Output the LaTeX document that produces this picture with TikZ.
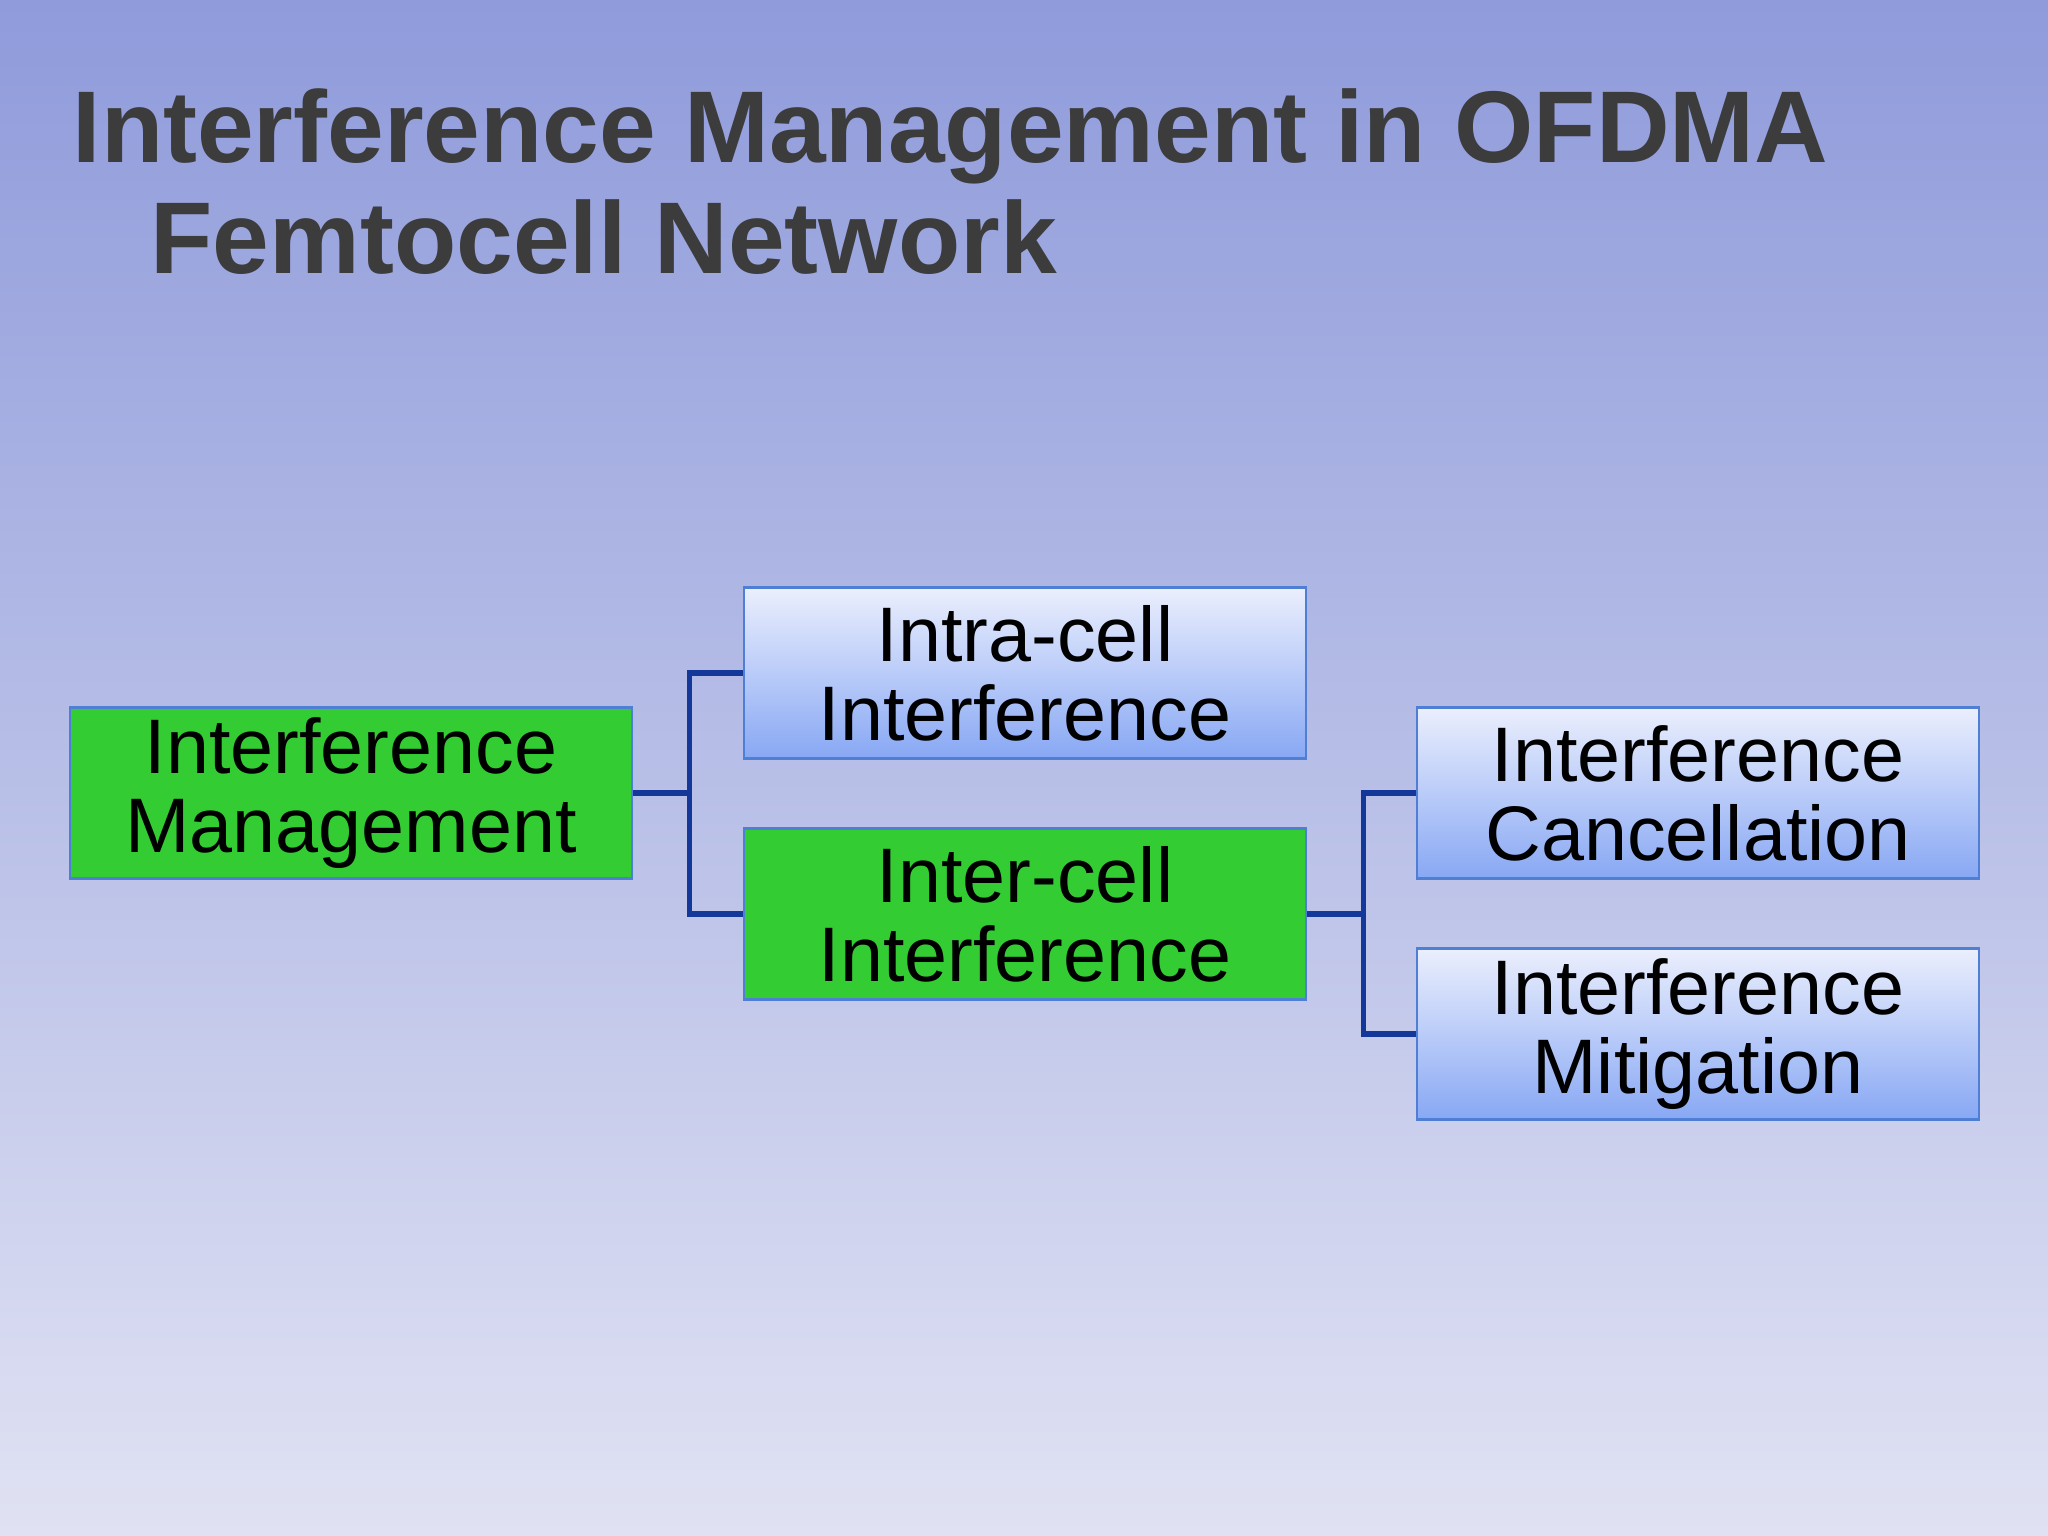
\documentclass[tikz,border=0pt]{standalone}
\usepackage{fontspec}
\setmainfont{Liberation Sans}
\definecolor{bgtop}{HTML}{8F9BDB}
\definecolor{bgbot}{HTML}{E0E2F3}
\definecolor{boxtop}{HTML}{EBEFFD}
\definecolor{boxbot}{HTML}{88A8F4}
\definecolor{boxgreen}{HTML}{33CC33}
\definecolor{boxline}{HTML}{4F7FD4}
\definecolor{linkblue}{HTML}{14389A}
\definecolor{titlegray}{HTML}{3C3C3C}
\tikzset{
  item/.style={draw=boxline,line width=0.8pt,minimum width=5.62cm,minimum height=1.71cm,
    align=center,font=\fontsize{22}{22.5}\selectfont,inner sep=0pt},
  blueitem/.style={item,top color=boxtop,bottom color=boxbot},
  greenitem/.style={item,fill=boxgreen},
  link/.style={draw=linkblue,line width=1.6pt}
}
\begin{document}
\begin{tikzpicture}
\shade[top color=bgtop,bottom color=bgbot] (0,0) rectangle (20.48,15.36);
\useasboundingbox (0,0) rectangle (20.48,15.36);
% title
\node[anchor=base west,inner sep=0pt,text=titlegray,font=\fontsize{29}{34}\selectfont\bfseries] (t1) at (0.72,13.73) {Interference Management in OFDMA};
\node[anchor=base west,inner sep=0pt,text=titlegray,font=\fontsize{29}{34}\selectfont\bfseries] (t2) at (1.50,12.62) {Femtocell Network};
% boxes
\node[greenitem] (im) at (3.51,7.43) {Interference\\Management};
\node[blueitem] (intra) at (10.25,8.63) {Intra-cell\\Interference};
\node[greenitem] (inter) at (10.25,6.22) {Inter-cell\\Interference};
\node[blueitem] (canc) at (16.98,7.43) {Interference\\Cancellation};
\node[blueitem] (mitig) at (16.98,5.02) {Interference\\Mitigation};
% links
\draw[link] (im.east) -- ++(0.56,0) |- (intra.west);
\draw[link] (im.east) -- ++(0.56,0) |- (inter.west);
\draw[link] (inter.east) -- ++(0.56,0) |- (canc.west);
\draw[link] (inter.east) -- ++(0.56,0) |- (mitig.west);
\end{tikzpicture}
\end{document}
